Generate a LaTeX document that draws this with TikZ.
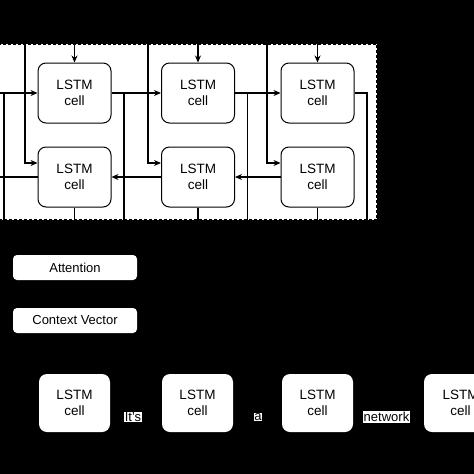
\documentclass[tikz,border=0pt]{standalone}
\usepackage{fontspec}
\setmainfont{Liberation Sans}
\usetikzlibrary{arrows.meta}
\begin{document}
\begin{tikzpicture}[x=1pt,y=-1pt,
  cellbox/.style={draw=black,line width=1pt,fill=white,rounded corners=8pt,
    minimum width=73pt,minimum height=60pt,align=center,inner sep=0pt,
    font=\fontsize{13.5}{16}\selectfont},
  plainbox/.style={fill=white,rounded corners=4pt,minimum width=124pt,
    minimum height=25pt,inner sep=0pt,font=\fontsize{13}{15}\selectfont},
  wordlbl/.style={fill=white,inner sep=0.8pt,font=\fontsize{13}{15}\selectfont},
  conn/.style={line width=1.1pt,draw=black},
  arr/.style={conn,-{Stealth[length=7pt,width=6pt]}}]
\fill[black] (0,0) rectangle (474,474);
\useasboundingbox (0,0) rectangle (474,474);
\begin{scope}
\clip (0,0) rectangle (474,474);
% dashed white frame
\draw[fill=white,draw=black,line width=1.2pt,dash pattern=on 3pt off 2pt] (-10,44) rectangle (377,220);
% top row
\node[cellbox] (t1) at (74.5,93) {LSTM\\cell};
\node[cellbox] (t2) at (198,93) {LSTM\\cell};
\node[cellbox] (t3) at (317.5,93) {LSTM\\cell};
% bottom row
\node[cellbox] (b1) at (74.5,177) {LSTM\\cell};
\node[cellbox] (b2) at (198,177) {LSTM\\cell};
\node[cellbox] (b3) at (317.5,177) {LSTM\\cell};
% coordinates on frame
\coordinate (it1) at (74.5,44);
\coordinate (it2) at (198,44);
\coordinate (it3) at (317.5,44);
\coordinate (ib1) at (25,44);
\coordinate (ib2) at (148,44);
\coordinate (ib3) at (267,44);
\coordinate (lin) at (-10,93);
\coordinate (lout) at (-10,177);
\coordinate (d0a) at (4,93);
\coordinate (d0b) at (4,220);
\coordinate (d1a) at (124,93);
\coordinate (d1b) at (124,220);
\coordinate (d2a) at (247.5,93);
\coordinate (d2b) at (247.5,220);
\coordinate (r3a) at (367,93);
\coordinate (r3b) at (367,220);
\coordinate (o1) at (74.5,220);
\coordinate (o2) at (198,220);
\coordinate (o3) at (317.5,220);
% inputs
\draw[arr] (it1) -- (t1.north);
\draw[arr] (it2) -- (t2.north);
\draw[arr] (it3) -- (t3.north);
\draw[arr] (ib1) |- ([yshift=14pt]b1.west);
\draw[arr] (ib2) |- ([yshift=14pt]b2.west);
\draw[arr] (ib3) |- ([yshift=14pt]b3.west);
% forward chain
\draw[arr] (lin) -- (t1.west);
\draw[arr] (t1.east) -- (t2.west);
\draw[arr] (t2.east) -- (t3.west);
\draw[conn] (t3.east) -- (r3a) -- (r3b);
\draw[conn] (d0a) -- (d0b);
\draw[conn] (d1a) -- (d1b);
\draw[conn] (d2a) -- (d2b);
% backward chain
\draw[conn] (b1.west) -- (lout);
\draw[arr] (b2.west) -- (b1.east);
\draw[arr] (b3.west) -- (b2.east);
\draw[conn] (b1.south) -- (o1);
\draw[conn] (b2.south) -- (o2);
\draw[conn] (b3.south) -- (o3);
% lower part
\node[plainbox] (att) at (75,267.5) {Attention};
\node[plainbox] (ctx) at (75,320.5) {Context Vector};
\node[cellbox,draw=none,minimum width=71pt,minimum height=58pt] (c1) at (74.5,403) {LSTM\\cell};
\node[cellbox,draw=none,minimum width=71pt,minimum height=58pt] (c2) at (197.5,403) {LSTM\\cell};
\node[cellbox,draw=none,minimum width=71pt,minimum height=58pt] (c3) at (317.5,403) {LSTM\\cell};
\node[cellbox,draw=none,minimum width=73pt,minimum height=58pt] (c4) at (460.5,403) {LSTM\\cell};
\node[wordlbl] (w1) at (133,417) {It's};
\node[wordlbl] (w2) at (258,417) {a};
\node[wordlbl] (w3) at (386.5,417) {network};
\end{scope}
\end{tikzpicture}
\end{document}
